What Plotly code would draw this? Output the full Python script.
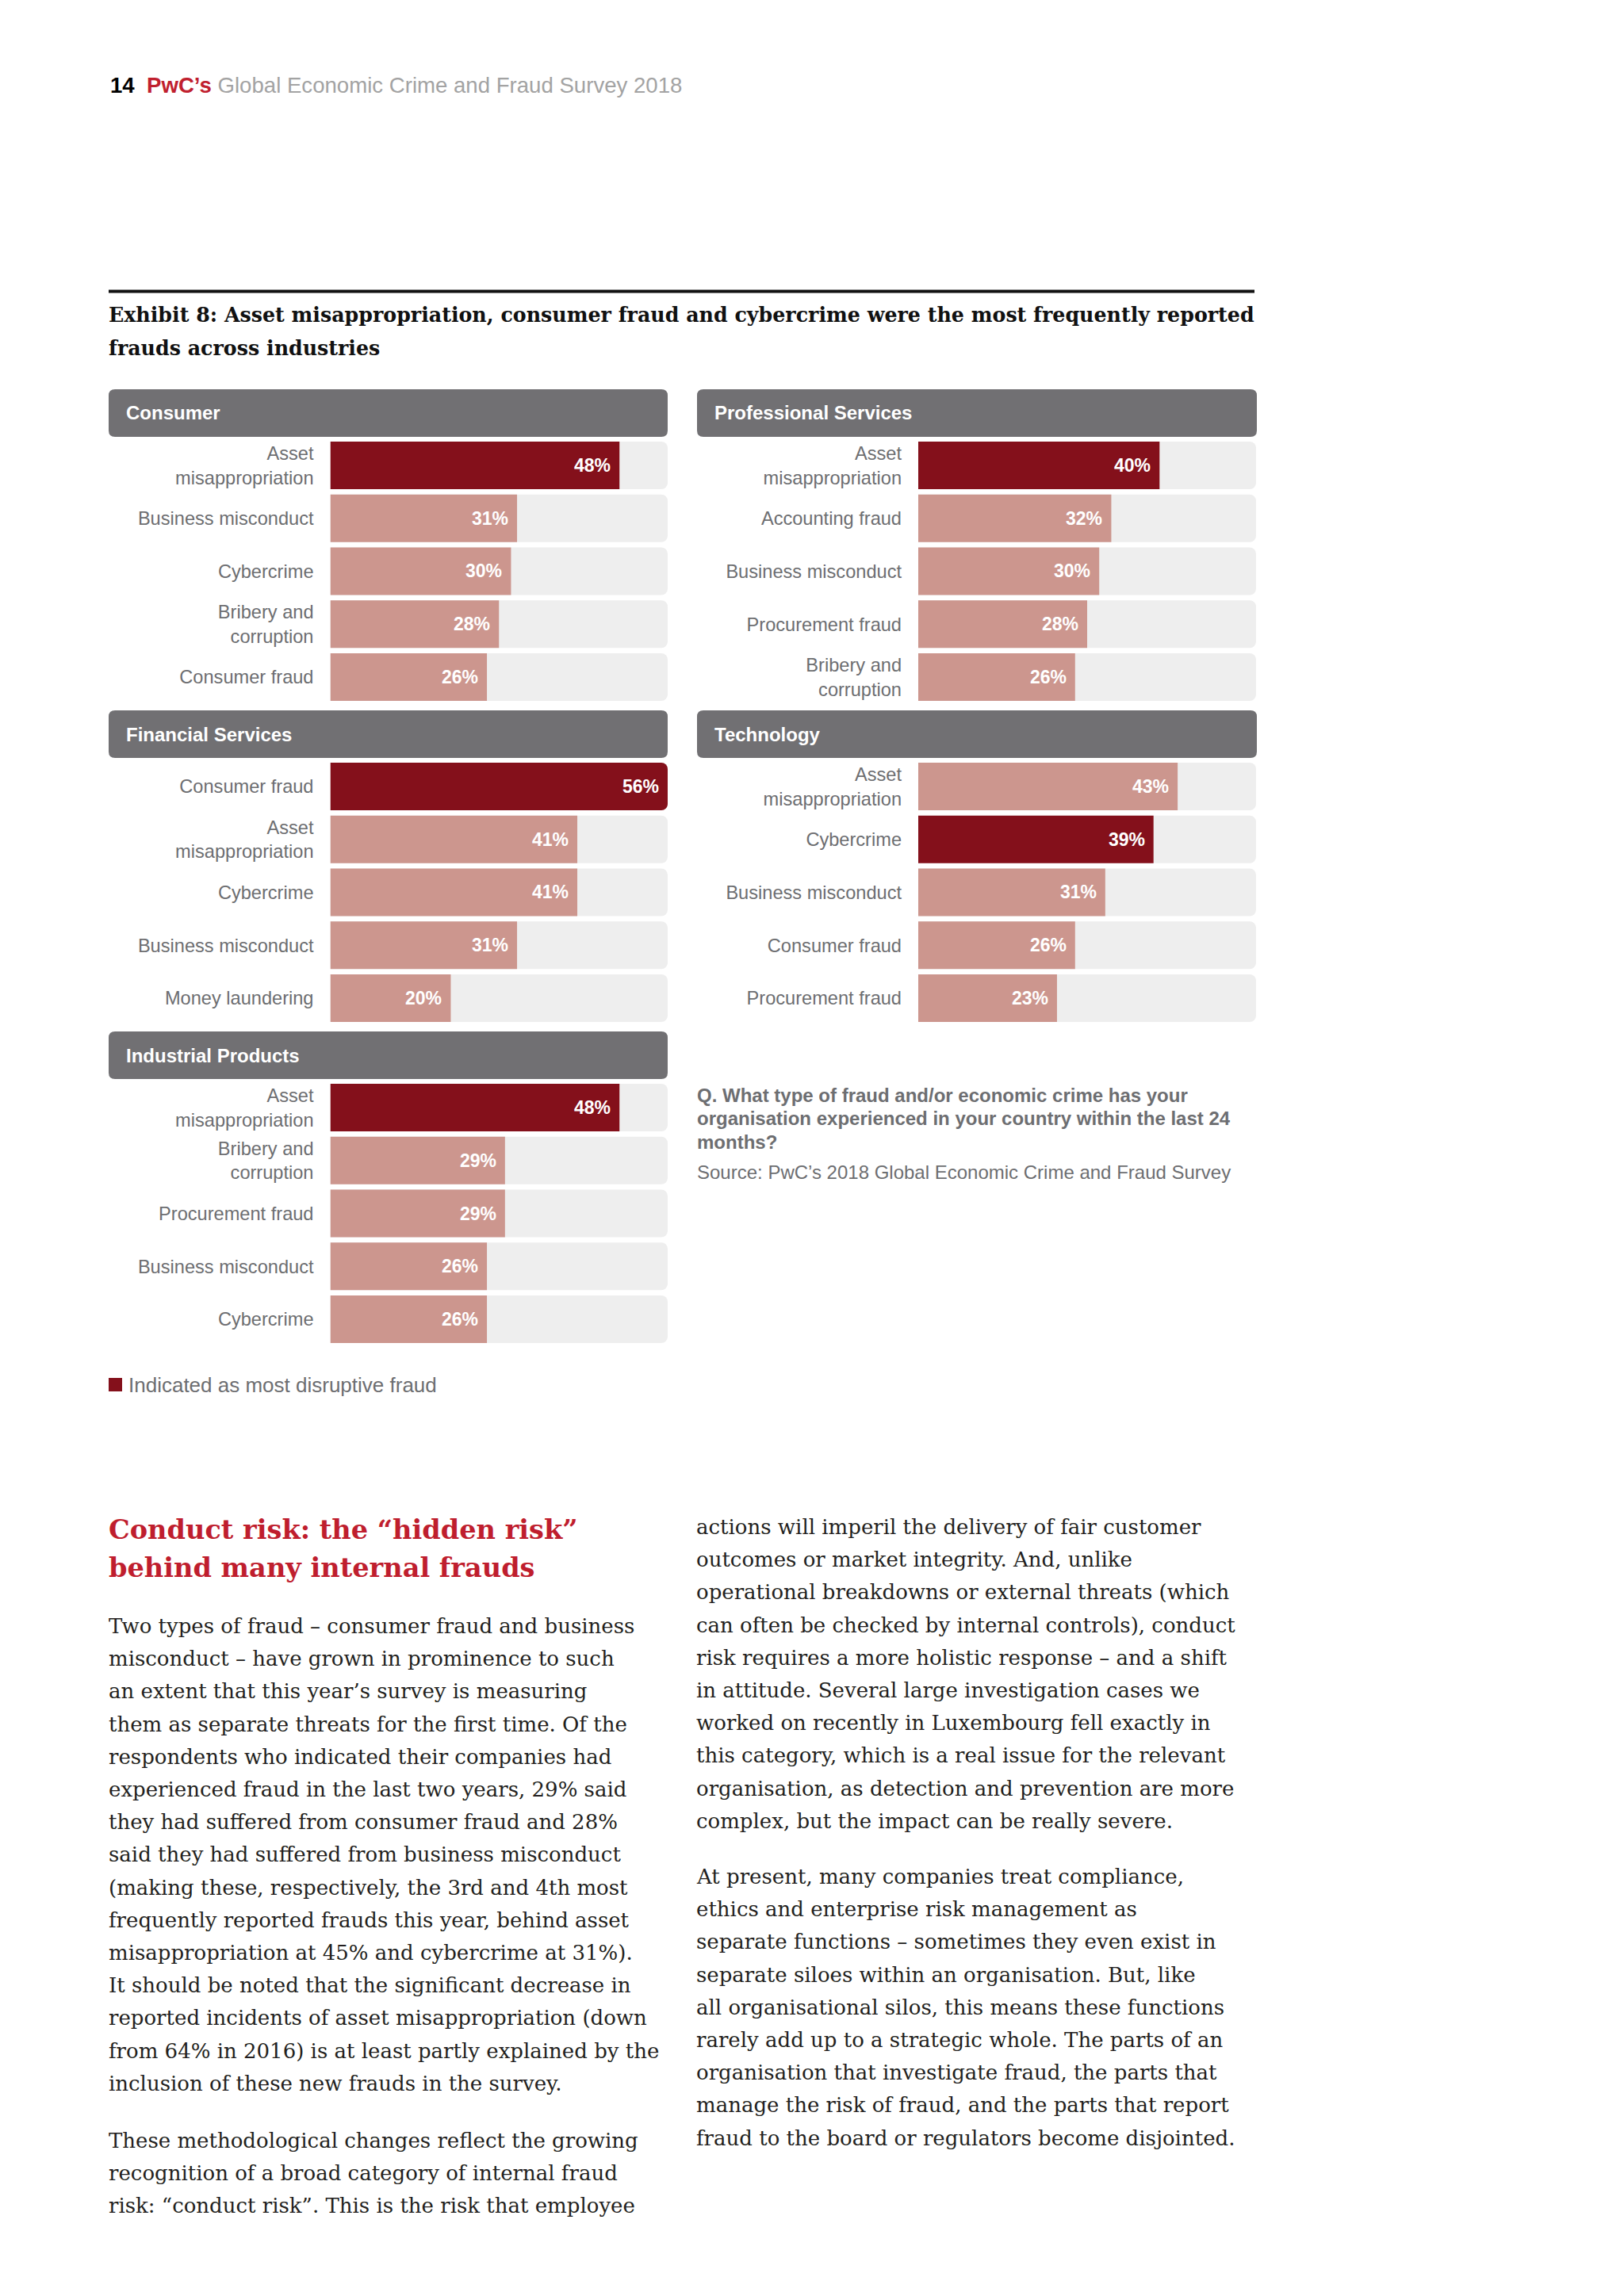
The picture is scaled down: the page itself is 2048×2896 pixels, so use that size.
import plotly.graph_objects as go

W, H = 2048, 2896

# ---------------- data ----------------
panel_titles = ["Consumer", "Professional Services", "Financial Services",
                "Technology", "Industrial Products"]

consumer_cats = ["Asset<br>misappropriation", "Business misconduct", "Cybercrime",
                 "Bribery and<br>corruption", "Consumer fraud"]
consumer_vals = [48, 31, 30, 28, 26]

professional_cats = ["Asset<br>misappropriation", "Accounting fraud", "Business misconduct",
                     "Procurement fraud", "Bribery and<br>corruption"]
professional_vals = [40, 32, 30, 28, 26]

financial_cats = ["Consumer fraud", "Asset<br>misappropriation", "Cybercrime",
                  "Business misconduct", "Money laundering"]
financial_vals = [56, 41, 41, 31, 20]

technology_cats = ["Asset<br>misappropriation", "Cybercrime", "Business misconduct",
                   "Consumer fraud", "Procurement fraud"]
technology_vals = [43, 39, 31, 26, 23]

industrial_cats = ["Asset<br>misappropriation", "Bribery and<br>corruption", "Procurement fraud",
                   "Business misconduct", "Cybercrime"]
industrial_vals = [48, 29, 29, 26, 26]

# index of the bar "indicated as most disruptive fraud" in each panel
most_disruptive = [0, 0, 0, 1, 0]
scale_max = 56

legend_label = "Indicated as most disruptive fraud"

# ---------------- styling ----------------
DARK = "#84101b"
LIGHT = "#cc968e"
TRACK = "#eeeeee"
HEADER = "#717073"
LABEL = "#6d6e71"
RED = "#bf1e2e"
SANS = "Liberation Sans, Arial, sans-serif"
SERIF = "DejaVu Serif, serif"
BODY_COLOR = "#231f20"

OFF = 8  # the html page body has an 8px margin


def px(x):
    return (x - OFF) / W


def py(y):
    return 1 - (y - OFF) / H


panels = [
    (panel_titles[0], consumer_cats, consumer_vals, 0, 0),
    (panel_titles[1], professional_cats, professional_vals, 1, 0),
    (panel_titles[2], financial_cats, financial_vals, 0, 1),
    (panel_titles[3], technology_cats, technology_vals, 1, 1),
    (panel_titles[4], industrial_cats, industrial_vals, 0, 2),
]

col_header_x = [(137, 842), (879, 1585)]
col_bar_x = [(416.5, 842), (1158, 1584)]
row_header_top = [491, 896, 1301]
HEADER_H = 60
PITCH = 66.75

fig = go.Figure()
shapes = []
annotations = []


def rounded_rect(x0, y0, x1, y1, r):
    X0, X1 = px(x0), px(x1)
    YT, YB = py(y0), py(y1)
    rx, ry = r / W, r / H
    return (f"M {X0+rx},{YT} L {X1-rx},{YT} Q {X1},{YT} {X1},{YT-ry} "
            f"L {X1},{YB+ry} Q {X1},{YB} {X1-rx},{YB} L {X0+rx},{YB} "
            f"Q {X0},{YB} {X0},{YB+ry} L {X0},{YT-ry} Q {X0},{YT} {X0+rx},{YT} Z")


layout_axes = {}
for i, (title, cats, vals, col, row) in enumerate(panels):
    n = i + 1
    xa = "x" if n == 1 else f"x{n}"
    ya = "y" if n == 1 else f"y{n}"
    xkey = "xaxis" if n == 1 else f"xaxis{n}"
    ykey = "yaxis" if n == 1 else f"yaxis{n}"

    htop = row_header_top[row]
    hx0, hx1 = col_header_x[col]
    shapes.append(dict(type="path", xref="paper", yref="paper",
                       path=rounded_rect(hx0, htop, hx1, htop + HEADER_H, 8),
                       fillcolor=HEADER, line=dict(width=0), layer="below"))
    annotations.append(dict(text=f"<b>{title}</b>", xref="paper", yref="paper",
                            x=px(hx0 + 20), y=py(htop + HEADER_H / 2),
                            xanchor="left", yanchor="middle", showarrow=False,
                            font=dict(family=SANS, size=24, color="white")))

    bars_top = htop + 66
    d_top = bars_top - (PITCH - 60) / 2
    d_bot = d_top + 5 * PITCH
    bx0, bx1 = col_bar_x[col]

    layout_axes[xkey] = dict(domain=[px(bx0), px(bx1)], range=[0, scale_max],
                             visible=False, anchor=ya, fixedrange=True)
    layout_axes[ykey] = dict(domain=[py(d_bot), py(d_top)], type="category",
                             categoryorder="array", categoryarray=cats,
                             range=[4.5, -0.5], anchor=xa, showgrid=False,
                             zeroline=False, showline=False, ticks="",
                             ticklabelstandoff=20, fixedrange=True,
                             tickfont=dict(family=SANS, size=23.6, color=LABEL))

    fig.add_trace(go.Bar(x=[scale_max] * len(cats), y=cats, orientation="h",
                         xaxis=xa, yaxis=ya, marker=dict(color=TRACK, cornerradius=8,
                                                         line=dict(width=0)),
                         hoverinfo="skip", showlegend=False))
    colors = [DARK if k == most_disruptive[i] else LIGHT for k in range(len(cats))]
    fig.add_trace(go.Bar(x=vals, y=cats, orientation="h", xaxis=xa, yaxis=ya,
                         marker=dict(color=colors, cornerradius=8, line=dict(width=0)),
                         showlegend=False))
    for c, v in zip(cats, vals):
        annotations.append(dict(text=f"<b>{v}%</b>", xref=xa, yref=ya, x=v, y=c,
                                xanchor="right", yanchor="middle", xshift=-9,
                                showarrow=False,
                                font=dict(family=SANS, size=23, color="white")))

# ---------------- page texts ----------------
annotations.append(dict(
    text="<b><span style='color:#000000'>14</span></b>\u00a0 <b><span style='color:#c0202e'>PwC’s</span></b> Global Economic Crime and Fraud Survey 2018",
    xref="paper", yref="paper", x=px(137), y=py(107), xanchor="left", yanchor="middle",
    showarrow=False, font=dict(family=SANS, size=27.6, color="#a3a3a3")))

shapes.append(dict(type="line", xref="paper", yref="paper", x0=px(137), x1=px(1582),
                   y0=py(367.5), y1=py(367.5), line=dict(color="#111111", width=4)))

title_lines = ["Exhibit 8: Asset misappropriation, consumer fraud and cybercrime were the most frequently reported",
               "frauds across industries"]
for k, t in enumerate(title_lines):
    annotations.append(dict(text=f"<b>{t}</b>", xref="paper", yref="paper", x=px(135),
                            y=py(397 + 42 * k), xanchor="left", yanchor="middle",
                            showarrow=False, font=dict(family=SERIF, size=25.3, color="#111111")))

note_lines = ["Q. What type of fraud and/or economic crime has your",
              "organisation experienced in your country within the last 24",
              "months?"]
for k, t in enumerate(note_lines):
    annotations.append(dict(text=f"<b>{t}</b>", xref="paper", yref="paper", x=px(877),
                            y=py(1381 + 29.5 * k), xanchor="left", yanchor="middle",
                            showarrow=False, font=dict(family=SANS, size=24, color="#6d6e71")))
annotations.append(dict(text="Source: PwC’s 2018 Global Economic Crime and Fraud Survey",
                        xref="paper", yref="paper", x=px(877), y=py(1479),
                        xanchor="left", yanchor="middle", showarrow=False,
                        font=dict(family=SANS, size=24, color="#6d6e71")))

# legend
shapes.append(dict(type="rect", xref="paper", yref="paper", x0=px(137), x1=px(154),
                   y0=py(1755), y1=py(1738), fillcolor=DARK, line=dict(width=0)))
annotations.append(dict(text=legend_label, xref="paper", yref="paper", x=px(160),
                        y=py(1747), xanchor="left", yanchor="middle", showarrow=False,
                        font=dict(family=SANS, size=26, color="#6d6e71")))

# article heading
heading_lines = ["Conduct risk: the “hidden risk”", "behind many internal frauds"]
for k, t in enumerate(heading_lines):
    annotations.append(dict(text=f"<b>{t}</b>", xref="paper", yref="paper", x=px(135),
                            y=py(1929 + 48 * k), xanchor="left", yanchor="middle",
                            showarrow=False, font=dict(family=SERIF, size=33.6, color=RED)))

left_p1 = [
    "Two types of fraud – consumer fraud and business",
    "misconduct – have grown in prominence to such",
    "an extent that this year’s survey is measuring",
    "them as separate threats for the first time. Of the",
    "respondents who indicated their companies had",
    "experienced fraud in the last two years, 29% said",
    "they had suffered from consumer fraud and 28%",
    "said they had suffered from business misconduct",
    "(making these, respectively, the 3rd and 4th most",
    "frequently reported frauds this year, behind asset",
    "misappropriation at 45% and cybercrime at 31%).",
    "It should be noted that the significant decrease in",
    "reported incidents of asset misappropriation (down",
    "from 64% in 2016) is at least partly explained by the",
    "inclusion of these new frauds in the survey.",
]
left_p2 = [
    "These methodological changes reflect the growing",
    "recognition of a broad category of internal fraud",
    "risk: “conduct risk”. This is the risk that employee",
]
right_p1 = [
    "actions will imperil the delivery of fair customer",
    "outcomes or market integrity. And, unlike",
    "operational breakdowns or external threats (which",
    "can often be checked by internal controls), conduct",
    "risk requires a more holistic response – and a shift",
    "in attitude. Several large investigation cases we",
    "worked on recently in Luxembourg fell exactly in",
    "this category, which is a real issue for the relevant",
    "organisation, as detection and prevention are more",
    "complex, but the impact can be really severe.",
]
right_p2 = [
    "At present, many companies treat compliance,",
    "ethics and enterprise risk management as",
    "separate functions – sometimes they even exist in",
    "separate siloes within an organisation. But, like",
    "all organisational silos, this means these functions",
    "rarely add up to a strategic whole. The parts of an",
    "organisation that investigate fraud, the parts that",
    "manage the risk of fraud, and the parts that report",
    "fraud to the board or regulators become disjointed.",
]

LP = 41.2


def add_par(lines, x, y0):
    for k, t in enumerate(lines):
        annotations.append(dict(text=t, xref="paper", yref="paper", x=px(x),
                                y=py(y0 + LP * k), xanchor="left", yanchor="middle",
                                showarrow=False,
                                font=dict(family=SERIF, size=26, color=BODY_COLOR)))


add_par(left_p1, 135, 2051)
add_par(left_p2, 135, 2700)
add_par(right_p1, 876, 1926)
add_par(right_p2, 876, 2367)

fig.update_layout(width=W, height=H, margin=dict(l=0, r=0, t=0, b=0),
                  paper_bgcolor="white", plot_bgcolor="white",
                  barmode="overlay", bargap=0.1, showlegend=False,
                  hovermode=False, shapes=shapes, annotations=annotations,
                  **layout_axes)

fig.write_html("out.html")
